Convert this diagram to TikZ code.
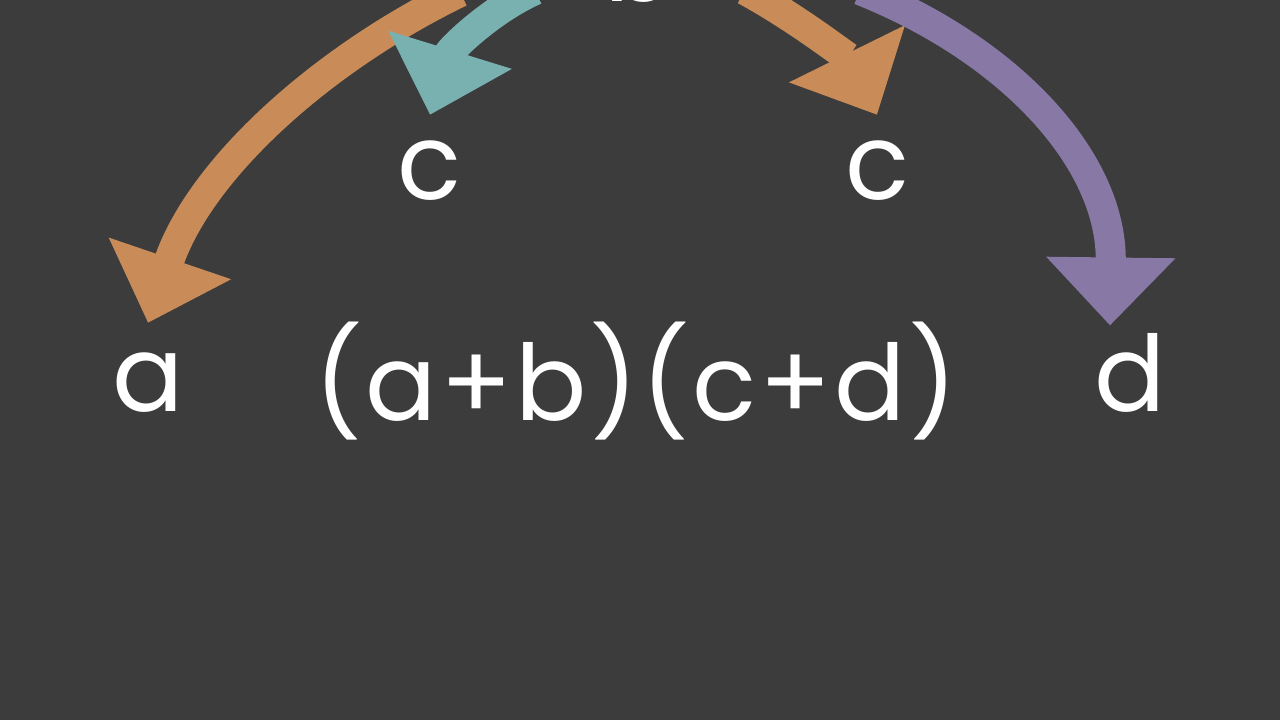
\documentclass[tikz,border=0pt]{standalone}
\usepackage{fontspec}
\setmainfont{Poppins}
\newfontfamily\widefont{Poppins}[LetterSpace=3]
\usetikzlibrary{arrows.meta,positioning}

\definecolor{board}{HTML}{3C3C3C}
\definecolor{peach}{HTML}{C98C58}
\definecolor{teal}{HTML}{79B1B0}
\definecolor{lilac}{HTML}{8778A6}

\begin{document}
\begin{tikzpicture}
[x=0.01cm,y=-0.01cm,
lbl/.style={text=white, font=\fontsize{30}{34}\selectfont, anchor=base},
bow/.style={line width=0.3cm, -{Triangle[length=6.8mm,width=12.5mm]}}]
\fill[board] (0,0) rectangle (1280,720);
\useasboundingbox (0,0) rectangle (1280,720);
\node[lbl] (top) at (640,1) {b};
\node[lbl] (a) at (148,411) {a};
\node[lbl] (cl) at (430,199) {c};
\node[lbl] (cr) at (877,199) {c};
\node[lbl] (d) at (1130,411) {d};
\node[lbl, font=\widefont\fontsize{30}{34}\selectfont] (expr) at (636,420) {(a+b)(c+d)};

\coordinate (s1) at (460,-8);
\coordinate (s2) at (535,-10);
\coordinate (s3) at (745,-10);
\coordinate (s4) at (860,-10);

\draw[bow,peach] (s1) .. controls (320,60) and (200,170) .. ([yshift=0.17cm]a.north);
\draw[bow,teal]  (s2) .. controls (490,10) and (450,50) .. ([yshift=0.13cm]cl.north);
\draw[bow,peach] (s3) .. controls (800,20) and (850,60) .. ([yshift=0.13cm]cr.north);
\draw[bow,lilac] (s4) .. controls (1010,50) and (1112,160) .. ([xshift=-0.2cm,yshift=-0.05cm]d.north);
\end{tikzpicture}
\end{document}
